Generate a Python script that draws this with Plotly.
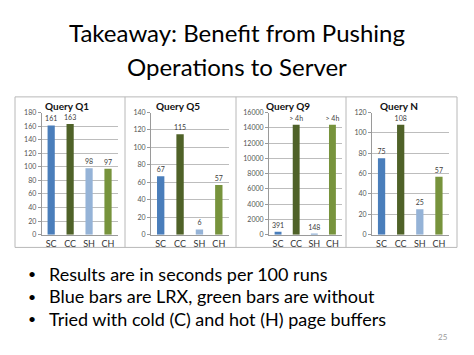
import plotly.graph_objects as go

W, H = 474, 355

categories = ["SC", "CC", "SH", "CH"]
bar_colors = ["#4a7ebb", "#4f6228", "#95b3d7", "#77933c"]

query_titles = ["Query Q1", "Query Q5", "Query Q9", "Query N"]
q1_values = [161, 163, 98, 97]
q5_values = [67, 115, 6, 57]
q9_values = [391, 14400, 148, 14400]
qn_values = [75, 108, 25, 57]
q1_labels = ["161", "163", "98", "97"]
q5_labels = ["67", "115", "6", "57"]
q9_labels = ["391", "> 4h", "148", "> 4h"]
qn_labels = ["75", "108", "25", "57"]
y_max = [180, 140, 16000, 120]
y_step = [20, 20, 2000, 20]

slide_title = ["Takeaway: Benefit from Pushing", "Operations to Server"]
bullets = [
    "Results are in seconds per 100 runs",
    "Blue bars are LRX, green bars are without",
    "Tried with cold (C) and hot (H) page buffers",
]
page_number = "25"

values = [q1_values, q5_values, q9_values, qn_values]
labels = [q1_labels, q5_labels, q9_labels, qn_labels]

# layout in pixels
panel_edges = [15, 125, 236, 346, 457]
plot_x = [(41.7, 117.5), (151, 228.5), (269, 341.5), (372, 448.5)]
plot_top, plot_bot = 110, 235

def px(x):
    return x / W

def py(y):
    return 1 - y / H

fig = go.Figure()
layout = dict(
    width=W, height=H, margin=dict(l=0, r=0, t=0, b=0),
    paper_bgcolor="white", plot_bgcolor="white", showlegend=False,
    font=dict(family="Lato, 'Open Sans', sans-serif"),
)

annotations = []
shapes = []

for i in range(4):
    xa = "xaxis" if i == 0 else f"xaxis{i+1}"
    ya = "yaxis" if i == 0 else f"yaxis{i+1}"
    xr = "x" if i == 0 else f"x{i+1}"
    yr = "y" if i == 0 else f"y{i+1}"
    fig.add_trace(go.Bar(
        x=categories, y=values[i], text=labels[i],
        textposition="outside", cliponaxis=False, constraintext="none",
        textfont=dict(size=7, color="#404040", family="Lato, sans-serif"),
        marker=dict(color=bar_colors, line=dict(width=0)),
        width=0.38, xaxis=xr, yaxis=yr, hoverinfo="skip",
    ))
    layout[xa] = dict(
        domain=[px(plot_x[i][0]), px(plot_x[i][1])], anchor=yr,
        range=[-0.5, 3.5], showline=True, linecolor="#9a9a9a", linewidth=1,
        ticks="", tickfont=dict(size=9, color="#333333"), fixedrange=True,
        showgrid=False,
    )
    layout[ya] = dict(
        domain=[py(plot_bot), py(plot_top)], anchor=xr,
        range=[0, y_max[i]], dtick=y_step[i], tickformat="d", showgrid=True,
        gridcolor="#bdbdbd", gridwidth=1, showline=True, linecolor="#9a9a9a",
        linewidth=1, ticks="outside", ticklen=3, tickcolor="#9a9a9a",
        tickfont=dict(size=7, color="#555555"), fixedrange=True, zeroline=False,
    )
    cx = (panel_edges[i] + panel_edges[i + 1]) / 2 - 3
    annotations.append(dict(
        x=px(cx), y=py(103), xref="paper", yref="paper", showarrow=False,
        text="<b>" + query_titles[i] + "</b>", xanchor="center", yanchor="middle",
        font=dict(size=10, color="#111111", family="Lato, sans-serif"),
    ))

# panel borders
shapes.append(dict(type="rect", xref="paper", yref="paper",
                   x0=px(panel_edges[0]), x1=px(panel_edges[-1]), y0=py(248), y1=py(94),
                   line=dict(color="#b8b8b8", width=1)))
for e in panel_edges[1:-1]:
    shapes.append(dict(type="line", xref="paper", yref="paper",
                       x0=px(e), x1=px(e), y0=py(248), y1=py(94),
                       line=dict(color="#b8b8b8", width=1)))

# slide title
for j, t in enumerate(slide_title):
    annotations.append(dict(
        x=0.5, y=py(28 + 35 * j), xref="paper", yref="paper", showarrow=False,
        text=t, xanchor="center", yanchor="middle",
        font=dict(size=24, color="#000000", family="Lato, sans-serif"),
    ))

# bullets
for j, b in enumerate(bullets):
    yy = py(275 + 23 * j)
    annotations.append(dict(x=px(32), y=yy, xref="paper", yref="paper", showarrow=False,
                            text="•", xanchor="center", yanchor="middle",
                            font=dict(size=14, color="#000000", family="Lato, sans-serif")))
    annotations.append(dict(x=px(47), y=yy, xref="paper", yref="paper", showarrow=False,
                            text=b, xanchor="left", yanchor="middle",
                            font=dict(size=18, color="#000000", family="Lato, sans-serif")))

annotations.append(dict(x=px(443), y=py(340), xref="paper", yref="paper", showarrow=False,
                        text=page_number, xanchor="center", yanchor="middle",
                        font=dict(size=8, color="#9a9a9a", family="Lato, sans-serif")))

layout["annotations"] = annotations
layout["shapes"] = shapes
fig.update_layout(**layout)
fig.write_html("out.html")
